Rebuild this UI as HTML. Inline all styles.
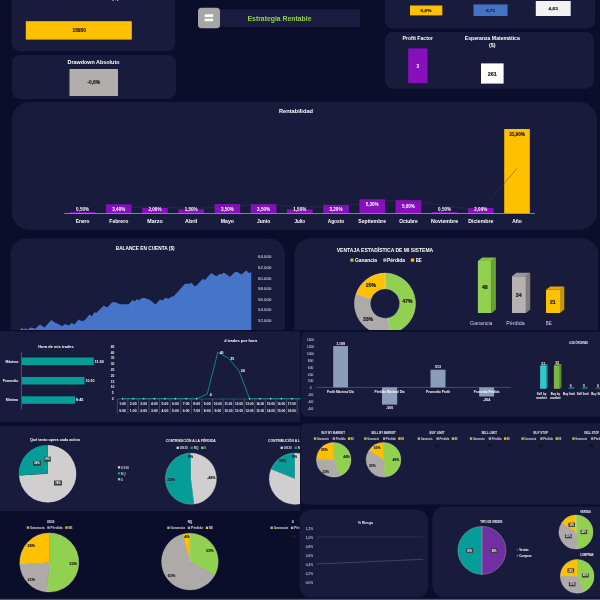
<!DOCTYPE html>
<html lang="es">
<head>
<meta charset="utf-8">
<title>Estrategia Rentable</title>
<style>
html,body{margin:0;padding:0;background:#0a0e2b;}
body{width:600px;height:600px;overflow:hidden;font-family:"Liberation Sans",sans-serif;}
svg{display:block;font-family:"Liberation Sans",sans-serif;will-change:transform;transform:translateZ(0);}
text{font-family:"Liberation Sans",sans-serif;}
</style>
</head>
<body>
<svg width="600" height="600" viewBox="0 0 600 600">
<rect x="0.00" y="0.00" width="600.00" height="600.00" fill="#0a0e2b" />
<rect x="11.70" y="-12.00" width="163.50" height="63.20" fill="#191b3c" rx="8" />
<rect x="25.80" y="21.20" width="106.00" height="18.40" fill="#ffc000" />
<text x="79.20" y="32.09" font-size="4.7" fill="#222" font-weight="bold" text-anchor="middle" textLength="13.30" lengthAdjust="spacingAndGlyphs"  stroke="#222" stroke-width="0.165">15950</text>
<text x="93.50" y="0.30" font-size="5.0" fill="#e8e8ee" font-weight="bold" text-anchor="middle" textLength="51.00" lengthAdjust="spacingAndGlyphs" >Balance Actual ($)</text>
<rect x="12.00" y="55.00" width="164.00" height="44.00" fill="#191b3c" rx="8" />
<text x="93.50" y="63.50" font-size="5.0" fill="#fff" font-weight="bold" text-anchor="middle" textLength="52.00" lengthAdjust="spacingAndGlyphs" >Drawdown Absoluto</text>
<rect x="69.50" y="69.00" width="48.50" height="27.00" fill="#b3aead" />
<text x="93.80" y="84.49" font-size="4.7" fill="#222" font-weight="bold" text-anchor="middle" textLength="12.70" lengthAdjust="spacingAndGlyphs"  stroke="#222" stroke-width="0.165">-0,6%</text>
<rect x="200.00" y="9.50" width="160.00" height="17.50" fill="#1a1c40" />
<rect x="198.00" y="7.80" width="22.00" height="20.50" fill="#a6a6a6" rx="3.5" />
<rect x="204.70" y="14.30" width="8.40" height="2.60" fill="#fff" />
<rect x="204.70" y="18.60" width="8.40" height="2.60" fill="#fff" />
<text x="279.50" y="20.89" font-size="7.2" fill="#92d050" font-weight="bold" text-anchor="middle" textLength="64.00" lengthAdjust="spacingAndGlyphs" >Estrategia Rentable</text>
<rect x="385.00" y="-12.00" width="210.00" height="40.50" fill="#191b3c" rx="8" />
<rect x="410.00" y="5.50" width="32.30" height="9.90" fill="#ffc000" />
<text x="426.00" y="12.08" font-size="4.4" fill="#222" font-weight="bold" text-anchor="middle" textLength="11.00" lengthAdjust="spacingAndGlyphs"  stroke="#222" stroke-width="0.154">0,6%</text>
<rect x="473.50" y="4.40" width="34.10" height="11.60" fill="#4472c4" />
<text x="490.50" y="11.88" font-size="4.4" fill="#222" font-weight="bold" text-anchor="middle" textLength="9.00" lengthAdjust="spacingAndGlyphs"  stroke="#222" stroke-width="0.154">0,71</text>
<rect x="535.80" y="1.00" width="34.90" height="15.00" fill="#f2f2f2" />
<text x="553.30" y="10.18" font-size="4.4" fill="#222" font-weight="bold" text-anchor="middle" textLength="9.50" lengthAdjust="spacingAndGlyphs"  stroke="#222" stroke-width="0.154">4,63</text>
<rect x="385.00" y="32.10" width="208.80" height="56.60" fill="#191b3c" rx="8" />
<text x="417.80" y="39.53" font-size="4.8" fill="#fff" font-weight="bold" text-anchor="middle" textLength="30.40" lengthAdjust="spacingAndGlyphs" >Profit Factor</text>
<rect x="408.20" y="48.40" width="19.30" height="34.80" fill="#880fbc" />
<text x="417.80" y="68.36" font-size="4.6" fill="#fff" font-weight="bold" text-anchor="middle" >3</text>
<text x="492.30" y="39.73" font-size="4.8" fill="#fff" font-weight="bold" text-anchor="middle" textLength="55.00" lengthAdjust="spacingAndGlyphs" >Esperanza Matem&#225;tica</text>
<text x="492.30" y="47.13" font-size="4.8" fill="#fff" font-weight="bold" text-anchor="middle" textLength="6.50" lengthAdjust="spacingAndGlyphs" >($)</text>
<rect x="481.00" y="63.40" width="22.60" height="20.20" fill="#ffffff" />
<text x="492.30" y="76.06" font-size="4.6" fill="#222" font-weight="bold" text-anchor="middle" textLength="9.20" lengthAdjust="spacingAndGlyphs"  stroke="#222" stroke-width="0.161">261</text>
<rect x="11.80" y="102.00" width="585.20" height="127.90" fill="#191b3c" rx="18" />
<text x="296.00" y="112.50" font-size="5.0" fill="#fff" font-weight="bold" text-anchor="middle" textLength="34.00" lengthAdjust="spacingAndGlyphs" >Rentabilidad</text>
<rect x="69.80" y="211.98" width="25.60" height="1.32" fill="#880fbe" />
<rect x="106.00" y="204.31" width="25.60" height="8.99" fill="#880fbe" />
<rect x="142.20" y="208.01" width="25.60" height="5.29" fill="#880fbe" />
<rect x="178.40" y="209.34" width="25.60" height="3.96" fill="#880fbe" />
<rect x="214.60" y="204.05" width="25.60" height="9.25" fill="#880fbe" />
<rect x="250.80" y="204.05" width="25.60" height="9.25" fill="#880fbe" />
<rect x="287.00" y="209.34" width="25.60" height="3.96" fill="#880fbe" />
<rect x="323.20" y="204.84" width="25.60" height="8.46" fill="#880fbe" />
<rect x="359.40" y="199.29" width="25.60" height="14.01" fill="#880fbe" />
<rect x="395.60" y="200.09" width="25.60" height="13.21" fill="#880fbe" />
<rect x="431.80" y="211.98" width="25.60" height="1.32" fill="#880fbe" />
<rect x="468.00" y="208.01" width="25.60" height="5.29" fill="#880fbe" />
<rect x="504.20" y="128.99" width="25.60" height="84.31" fill="#ffc000" />
<polyline points="118.8,208.1 155.0,206.2 191.2,208.7 227.4,206.7 263.6,204.0 299.8,206.7 336.0,207.1 372.2,202.1 408.4,199.7 444.6,206.0 480.8,210.0 517.0,168.5" fill="none" stroke="#36374c" stroke-width="0.45"/>
<line x1="64.3" y1="213.5" x2="535" y2="213.5" stroke="#c8c8d0" stroke-width="0.6"/>
<text x="82.60" y="210.92" font-size="4.5" fill="#fff" font-weight="bold" text-anchor="middle" textLength="13.00" lengthAdjust="spacingAndGlyphs" >0,50%</text>
<text x="82.60" y="222.80" font-size="5.0" fill="#fff" font-weight="bold" text-anchor="middle" textLength="13.60" lengthAdjust="spacingAndGlyphs" >Enero</text>
<text x="118.80" y="210.92" font-size="4.5" fill="#fff" font-weight="bold" text-anchor="middle" textLength="13.00" lengthAdjust="spacingAndGlyphs" >3,40%</text>
<text x="118.80" y="222.80" font-size="5.0" fill="#fff" font-weight="bold" text-anchor="middle" textLength="19.00" lengthAdjust="spacingAndGlyphs" >Febrero</text>
<text x="155.00" y="210.92" font-size="4.5" fill="#fff" font-weight="bold" text-anchor="middle" textLength="13.00" lengthAdjust="spacingAndGlyphs" >2,00%</text>
<text x="155.00" y="222.80" font-size="5.0" fill="#fff" font-weight="bold" text-anchor="middle" textLength="15.40" lengthAdjust="spacingAndGlyphs" >Marzo</text>
<text x="191.20" y="210.92" font-size="4.5" fill="#fff" font-weight="bold" text-anchor="middle" textLength="13.00" lengthAdjust="spacingAndGlyphs" >1,50%</text>
<text x="191.20" y="222.80" font-size="5.0" fill="#fff" font-weight="bold" text-anchor="middle" textLength="12.30" lengthAdjust="spacingAndGlyphs" >Abril</text>
<text x="227.40" y="210.92" font-size="4.5" fill="#fff" font-weight="bold" text-anchor="middle" textLength="13.00" lengthAdjust="spacingAndGlyphs" >3,50%</text>
<text x="227.40" y="222.80" font-size="5.0" fill="#fff" font-weight="bold" text-anchor="middle" textLength="13.30" lengthAdjust="spacingAndGlyphs" >Mayo</text>
<text x="263.60" y="210.92" font-size="4.5" fill="#fff" font-weight="bold" text-anchor="middle" textLength="13.00" lengthAdjust="spacingAndGlyphs" >3,50%</text>
<text x="263.60" y="222.80" font-size="5.0" fill="#fff" font-weight="bold" text-anchor="middle" textLength="13.30" lengthAdjust="spacingAndGlyphs" >Junio</text>
<text x="299.80" y="210.92" font-size="4.5" fill="#fff" font-weight="bold" text-anchor="middle" textLength="13.00" lengthAdjust="spacingAndGlyphs" >1,50%</text>
<text x="299.80" y="222.80" font-size="5.0" fill="#fff" font-weight="bold" text-anchor="middle" textLength="10.70" lengthAdjust="spacingAndGlyphs" >Julio</text>
<text x="336.00" y="210.92" font-size="4.5" fill="#fff" font-weight="bold" text-anchor="middle" textLength="13.00" lengthAdjust="spacingAndGlyphs" >3,20%</text>
<text x="336.00" y="222.80" font-size="5.0" fill="#fff" font-weight="bold" text-anchor="middle" textLength="16.70" lengthAdjust="spacingAndGlyphs" >Agosto</text>
<text x="372.20" y="206.42" font-size="4.5" fill="#fff" font-weight="bold" text-anchor="middle" textLength="13.00" lengthAdjust="spacingAndGlyphs" >5,30%</text>
<text x="372.20" y="222.80" font-size="5.0" fill="#fff" font-weight="bold" text-anchor="middle" textLength="27.70" lengthAdjust="spacingAndGlyphs" >Septiembre</text>
<text x="408.40" y="207.92" font-size="4.5" fill="#fff" font-weight="bold" text-anchor="middle" textLength="13.00" lengthAdjust="spacingAndGlyphs" >5,00%</text>
<text x="408.40" y="222.80" font-size="5.0" fill="#fff" font-weight="bold" text-anchor="middle" textLength="18.50" lengthAdjust="spacingAndGlyphs" >Octubre</text>
<text x="444.60" y="210.92" font-size="4.5" fill="#fff" font-weight="bold" text-anchor="middle" textLength="13.00" lengthAdjust="spacingAndGlyphs" >0,50%</text>
<text x="444.60" y="222.80" font-size="5.0" fill="#fff" font-weight="bold" text-anchor="middle" textLength="27.30" lengthAdjust="spacingAndGlyphs" >Noviembre</text>
<text x="480.80" y="210.92" font-size="4.5" fill="#fff" font-weight="bold" text-anchor="middle" textLength="13.00" lengthAdjust="spacingAndGlyphs" >2,00%</text>
<text x="480.80" y="222.80" font-size="5.0" fill="#fff" font-weight="bold" text-anchor="middle" textLength="25.00" lengthAdjust="spacingAndGlyphs" >Diciembre</text>
<text x="517.00" y="135.92" font-size="4.5" fill="#222" font-weight="bold" text-anchor="middle" textLength="15.70" lengthAdjust="spacingAndGlyphs"  stroke="#222" stroke-width="0.158">31,90%</text>
<text x="517.00" y="222.80" font-size="5.0" fill="#fff" font-weight="bold" text-anchor="middle" textLength="9.70" lengthAdjust="spacingAndGlyphs" >A&#241;o</text>
<clipPath id="cb"><rect x="0" y="230" width="300" height="99.9"/></clipPath>
<g clip-path="url(#cb)">
<rect x="10.50" y="238.40" width="274.50" height="110.00" fill="#191b3c" rx="16" />
<text x="145.20" y="250.37" font-size="5.2" fill="#fff" font-weight="bold" text-anchor="middle" textLength="59.00" lengthAdjust="spacingAndGlyphs" >BALANCE EN CUENTA ($)</text>
<path d="M20,335 L20,329.5 L22,328 L23.75,329.5 L25.75,328.25 L27.5,329.5 L31.25,327.5 L35,328.75 L40,324.5 L44.5,327.5 L51.25,320 L55.5,323 L58,323.75 L62,326.25 L65,324 L68.75,325.5 L71.75,323 L74.25,324.5 L78.75,319.5 L82,321.25 L85,320 L89.5,314.5 L92,316.25 L94.5,312 L96.25,313 L103.75,305.5 L107,307.5 L112.5,302 L116.25,302.5 L120,304.25 L128.75,304.25 L132.5,300 L135,301.25 L137,298.75 L138.75,300.5 L142,298 L145,298 L150,300 L155.5,304.5 L160,299.5 L162.5,300.5 L165,298 L168.75,298.75 L171.25,296.75 L173.75,296.25 L185,283.75 L190,283.75 L191.25,282.5 L194.5,286.25 L196.25,285.75 L203,278.75 L205,280 L211.25,273 L216.25,276.25 L220,273.75 L221.25,274.5 L223.75,272.5 L230,276.75 L235,272 L237.5,272 L241.25,274.5 L246.25,270.5 L249.5,273.25 L251.25,271.75 L251.25,335 Z" fill="#4674c8"/>
<text x="264.70" y="258.38" font-size="4.4" fill="#e8e8f0" font-weight="normal" text-anchor="middle" textLength="13.20" lengthAdjust="spacingAndGlyphs" >64.000</text>
<text x="264.70" y="268.98" font-size="4.4" fill="#e8e8f0" font-weight="normal" text-anchor="middle" textLength="13.20" lengthAdjust="spacingAndGlyphs" >62.000</text>
<text x="264.70" y="279.58" font-size="4.4" fill="#e8e8f0" font-weight="normal" text-anchor="middle" textLength="13.20" lengthAdjust="spacingAndGlyphs" >60.000</text>
<text x="264.70" y="290.18" font-size="4.4" fill="#e8e8f0" font-weight="normal" text-anchor="middle" textLength="13.20" lengthAdjust="spacingAndGlyphs" >58.000</text>
<text x="264.70" y="300.78" font-size="4.4" fill="#e8e8f0" font-weight="normal" text-anchor="middle" textLength="13.20" lengthAdjust="spacingAndGlyphs" >56.000</text>
<text x="264.70" y="311.38" font-size="4.4" fill="#e8e8f0" font-weight="normal" text-anchor="middle" textLength="13.20" lengthAdjust="spacingAndGlyphs" >54.000</text>
<text x="264.70" y="321.98" font-size="4.4" fill="#e8e8f0" font-weight="normal" text-anchor="middle" textLength="13.20" lengthAdjust="spacingAndGlyphs" >52.000</text>
<text x="264.70" y="332.58" font-size="4.4" fill="#e8e8f0" font-weight="normal" text-anchor="middle" textLength="13.20" lengthAdjust="spacingAndGlyphs" >50.000</text>
</g>
<clipPath id="cv"><rect x="290" y="230" width="310" height="100.0"/></clipPath>
<g clip-path="url(#cv)">
<rect x="294.60" y="238.30" width="303.70" height="110.00" fill="#191b3c" rx="16" />
<text x="385.00" y="251.82" font-size="5.6" fill="#fff" font-weight="bold" text-anchor="middle" textLength="96.50" lengthAdjust="spacingAndGlyphs" >VENTAJA ESTAD&#205;STICA DE MI SISTEMA</text>
<rect x="350.30" y="258.50" width="3.20" height="3.20" fill="#92d050" />
<text x="354.90" y="261.94" font-size="5.4" fill="#fff" font-weight="bold" text-anchor="start" textLength="22.10" lengthAdjust="spacingAndGlyphs" >Ganancia</text>
<rect x="383.20" y="258.50" width="3.20" height="3.20" fill="#aeaaaa" />
<text x="387.00" y="261.94" font-size="5.4" fill="#fff" font-weight="bold" text-anchor="start" textLength="18.10" lengthAdjust="spacingAndGlyphs" >P&#233;rdida</text>
<rect x="410.90" y="258.50" width="3.20" height="3.20" fill="#ffc000" />
<text x="415.70" y="261.94" font-size="5.4" fill="#fff" font-weight="bold" text-anchor="start" textLength="6.10" lengthAdjust="spacingAndGlyphs" >BE</text>
<path d="M385.00,273.10 A30.5,30.5 0 0 1 390.72,333.56 L387.77,318.14 A14.8,14.8 0 0 0 385.00,288.80 Z" fill="#92d050" stroke="#e8e8e8" stroke-width="0.35" stroke-linejoin="round"/>
<path d="M390.72,333.56 A30.5,30.5 0 0 1 355.99,294.17 L370.92,299.03 A14.8,14.8 0 0 0 387.77,318.14 Z" fill="#aeaaaa" stroke="#e8e8e8" stroke-width="0.35" stroke-linejoin="round"/>
<path d="M355.99,294.17 A30.5,30.5 0 0 1 385.00,273.10 L385.00,288.80 A14.8,14.8 0 0 0 370.92,299.03 Z" fill="#ffc000" stroke="#e8e8e8" stroke-width="0.35" stroke-linejoin="round"/>
<text x="407.40" y="302.94" font-size="5.4" fill="#1c1c1c" font-weight="bold" text-anchor="middle" textLength="10.00" lengthAdjust="spacingAndGlyphs" stroke="#1c1c1c" stroke-width="0.2">47%</text>
<text x="367.90" y="320.84" font-size="5.4" fill="#1c1c1c" font-weight="bold" text-anchor="middle" textLength="10.00" lengthAdjust="spacingAndGlyphs" stroke="#1c1c1c" stroke-width="0.2">33%</text>
<text x="371.00" y="286.94" font-size="5.4" fill="#1c1c1c" font-weight="bold" text-anchor="middle" textLength="10.00" lengthAdjust="spacingAndGlyphs" stroke="#1c1c1c" stroke-width="0.2">20%</text>
<rect x="477.90" y="261.00" width="13.70" height="52.00" fill="#92d050" />
<path d="M491.59999999999997,261.0 L495.9,257.6 L495.9,309.6 L491.59999999999997,313.0 Z" fill="#6aa035"/>
<path d="M477.9,261.0 L482.2,257.6 L495.9,257.6 L491.59999999999997,261.0 Z" fill="#7fc040"/>
<rect x="512.00" y="276.20" width="13.90" height="36.80" fill="#b7b2b2" />
<path d="M525.9,276.2 L530.1999999999999,272.8 L530.1999999999999,309.6 L525.9,313.0 Z" fill="#807c7c"/>
<path d="M512.0,276.2 L516.3,272.8 L530.1999999999999,272.8 L525.9,276.2 Z" fill="#9a9696"/>
<rect x="546.00" y="289.80" width="14.00" height="23.20" fill="#ffc000" />
<path d="M560.0,289.8 L564.3,286.40000000000003 L564.3,309.6 L560.0,313.0 Z" fill="#c89600"/>
<path d="M546.0,289.8 L550.3,286.40000000000003 L564.3,286.40000000000003 L560.0,289.8 Z" fill="#e0a800"/>
<text x="484.80" y="288.97" font-size="5.2" fill="#1c1c1c" font-weight="bold" text-anchor="middle" stroke="#1c1c1c" stroke-width="0.22">48</text>
<text x="518.70" y="296.77" font-size="5.2" fill="#1c1c1c" font-weight="bold" text-anchor="middle" stroke="#1c1c1c" stroke-width="0.22">34</text>
<text x="552.80" y="303.67" font-size="5.2" fill="#1c1c1c" font-weight="bold" text-anchor="middle" stroke="#1c1c1c" stroke-width="0.22">21</text>
<text x="481.30" y="324.81" font-size="5.3" fill="#d2d2dc" font-weight="normal" text-anchor="middle" textLength="22.40" lengthAdjust="spacingAndGlyphs" >Ganancia</text>
<text x="515.50" y="324.81" font-size="5.3" fill="#d2d2dc" font-weight="normal" text-anchor="middle" textLength="18.50" lengthAdjust="spacingAndGlyphs" >P&#233;rdida</text>
<text x="548.80" y="324.81" font-size="5.3" fill="#d2d2dc" font-weight="normal" text-anchor="middle" textLength="6.00" lengthAdjust="spacingAndGlyphs" >BE</text>
</g>
<rect x="0.00" y="331.40" width="300.20" height="90.70" fill="#191b3c" />
<text x="56.00" y="348.31" font-size="4.2" fill="#fff" font-weight="bold" text-anchor="middle" textLength="35.50" lengthAdjust="spacingAndGlyphs" >Hora de mis trades</text>
<line x1="21.4" y1="352" x2="21.4" y2="409.5" stroke="#a8aabc" stroke-width="0.4"/>
<rect x="21.80" y="357.50" width="72.00" height="7.50" fill="#069c98" />
<rect x="21.80" y="377.00" width="62.70" height="7.50" fill="#069c98" />
<rect x="21.80" y="396.30" width="53.20" height="7.50" fill="#069c98" />
<text x="12.00" y="362.60" font-size="3.6" fill="#fff" font-weight="bold" text-anchor="middle" textLength="13.00" lengthAdjust="spacingAndGlyphs" >M&#225;ximo</text>
<text x="10.50" y="382.10" font-size="3.6" fill="#fff" font-weight="bold" text-anchor="middle" textLength="15.50" lengthAdjust="spacingAndGlyphs" >Promedio</text>
<text x="12.00" y="401.30" font-size="3.6" fill="#fff" font-weight="bold" text-anchor="middle" textLength="12.50" lengthAdjust="spacingAndGlyphs" >M&#237;nimo</text>
<text x="99.20" y="362.60" font-size="3.6" fill="#fff" font-weight="bold" text-anchor="middle" textLength="9.00" lengthAdjust="spacingAndGlyphs" >11:50</text>
<text x="90.00" y="382.10" font-size="3.6" fill="#fff" font-weight="bold" text-anchor="middle" textLength="9.00" lengthAdjust="spacingAndGlyphs" >10:10</text>
<text x="79.60" y="401.30" font-size="3.6" fill="#fff" font-weight="bold" text-anchor="middle" textLength="7.50" lengthAdjust="spacingAndGlyphs" >8:45</text>
<text x="240.70" y="342.21" font-size="4.2" fill="#fff" font-weight="bold" text-anchor="middle" textLength="33.00" lengthAdjust="spacingAndGlyphs" ># trades por hora</text>
<text x="112.60" y="347.69" font-size="3.3" fill="#f0f0f4" font-weight="bold" text-anchor="middle" textLength="3.70" lengthAdjust="spacingAndGlyphs" >45</text>
<text x="112.60" y="353.51" font-size="3.3" fill="#f0f0f4" font-weight="bold" text-anchor="middle" textLength="3.70" lengthAdjust="spacingAndGlyphs" >40</text>
<text x="112.60" y="359.33" font-size="3.3" fill="#f0f0f4" font-weight="bold" text-anchor="middle" textLength="3.70" lengthAdjust="spacingAndGlyphs" >35</text>
<text x="112.60" y="365.15" font-size="3.3" fill="#f0f0f4" font-weight="bold" text-anchor="middle" textLength="3.70" lengthAdjust="spacingAndGlyphs" >30</text>
<text x="112.60" y="370.97" font-size="3.3" fill="#f0f0f4" font-weight="bold" text-anchor="middle" textLength="3.70" lengthAdjust="spacingAndGlyphs" >25</text>
<text x="112.60" y="376.79" font-size="3.3" fill="#f0f0f4" font-weight="bold" text-anchor="middle" textLength="3.70" lengthAdjust="spacingAndGlyphs" >20</text>
<text x="112.60" y="382.61" font-size="3.3" fill="#f0f0f4" font-weight="bold" text-anchor="middle" textLength="3.70" lengthAdjust="spacingAndGlyphs" >15</text>
<text x="112.60" y="388.43" font-size="3.3" fill="#f0f0f4" font-weight="bold" text-anchor="middle" textLength="3.70" lengthAdjust="spacingAndGlyphs" >10</text>
<text x="112.60" y="394.25" font-size="3.3" fill="#f0f0f4" font-weight="bold" text-anchor="middle" textLength="1.90" lengthAdjust="spacingAndGlyphs" >5</text>
<text x="112.60" y="400.07" font-size="3.3" fill="#f0f0f4" font-weight="bold" text-anchor="middle" textLength="1.90" lengthAdjust="spacingAndGlyphs" >0</text>
<line x1="117.30" y1="399.0" x2="117.30" y2="413.6" stroke="#8c8ea8" stroke-width="0.4"/>
<text x="122.59" y="405.02" font-size="3.4" fill="#f0f0f4" font-weight="bold" text-anchor="middle" textLength="6.80" lengthAdjust="spacingAndGlyphs" >1:00</text>
<text x="122.59" y="412.32" font-size="3.4" fill="#f0f0f4" font-weight="bold" text-anchor="middle" textLength="6.80" lengthAdjust="spacingAndGlyphs" >0:00</text>
<line x1="127.88" y1="399.0" x2="127.88" y2="413.6" stroke="#8c8ea8" stroke-width="0.4"/>
<text x="133.17" y="405.02" font-size="3.4" fill="#f0f0f4" font-weight="bold" text-anchor="middle" textLength="6.80" lengthAdjust="spacingAndGlyphs" >2:00</text>
<text x="133.17" y="412.32" font-size="3.4" fill="#f0f0f4" font-weight="bold" text-anchor="middle" textLength="6.80" lengthAdjust="spacingAndGlyphs" >1:00</text>
<line x1="138.46" y1="399.0" x2="138.46" y2="413.6" stroke="#8c8ea8" stroke-width="0.4"/>
<text x="143.75" y="405.02" font-size="3.4" fill="#f0f0f4" font-weight="bold" text-anchor="middle" textLength="6.80" lengthAdjust="spacingAndGlyphs" >3:00</text>
<text x="143.75" y="412.32" font-size="3.4" fill="#f0f0f4" font-weight="bold" text-anchor="middle" textLength="6.80" lengthAdjust="spacingAndGlyphs" >2:00</text>
<line x1="149.04" y1="399.0" x2="149.04" y2="413.6" stroke="#8c8ea8" stroke-width="0.4"/>
<text x="154.33" y="405.02" font-size="3.4" fill="#f0f0f4" font-weight="bold" text-anchor="middle" textLength="6.80" lengthAdjust="spacingAndGlyphs" >4:00</text>
<text x="154.33" y="412.32" font-size="3.4" fill="#f0f0f4" font-weight="bold" text-anchor="middle" textLength="6.80" lengthAdjust="spacingAndGlyphs" >3:00</text>
<line x1="159.62" y1="399.0" x2="159.62" y2="413.6" stroke="#8c8ea8" stroke-width="0.4"/>
<text x="164.91" y="405.02" font-size="3.4" fill="#f0f0f4" font-weight="bold" text-anchor="middle" textLength="6.80" lengthAdjust="spacingAndGlyphs" >5:00</text>
<text x="164.91" y="412.32" font-size="3.4" fill="#f0f0f4" font-weight="bold" text-anchor="middle" textLength="6.80" lengthAdjust="spacingAndGlyphs" >4:00</text>
<line x1="170.20" y1="399.0" x2="170.20" y2="413.6" stroke="#8c8ea8" stroke-width="0.4"/>
<text x="175.49" y="405.02" font-size="3.4" fill="#f0f0f4" font-weight="bold" text-anchor="middle" textLength="6.80" lengthAdjust="spacingAndGlyphs" >6:00</text>
<text x="175.49" y="412.32" font-size="3.4" fill="#f0f0f4" font-weight="bold" text-anchor="middle" textLength="6.80" lengthAdjust="spacingAndGlyphs" >5:00</text>
<line x1="180.78" y1="399.0" x2="180.78" y2="413.6" stroke="#8c8ea8" stroke-width="0.4"/>
<text x="186.07" y="405.02" font-size="3.4" fill="#f0f0f4" font-weight="bold" text-anchor="middle" textLength="6.80" lengthAdjust="spacingAndGlyphs" >7:00</text>
<text x="186.07" y="412.32" font-size="3.4" fill="#f0f0f4" font-weight="bold" text-anchor="middle" textLength="6.80" lengthAdjust="spacingAndGlyphs" >6:00</text>
<line x1="191.36" y1="399.0" x2="191.36" y2="413.6" stroke="#8c8ea8" stroke-width="0.4"/>
<text x="196.65" y="405.02" font-size="3.4" fill="#f0f0f4" font-weight="bold" text-anchor="middle" textLength="6.80" lengthAdjust="spacingAndGlyphs" >8:00</text>
<text x="196.65" y="412.32" font-size="3.4" fill="#f0f0f4" font-weight="bold" text-anchor="middle" textLength="6.80" lengthAdjust="spacingAndGlyphs" >7:00</text>
<line x1="201.94" y1="399.0" x2="201.94" y2="413.6" stroke="#8c8ea8" stroke-width="0.4"/>
<text x="207.23" y="405.02" font-size="3.4" fill="#f0f0f4" font-weight="bold" text-anchor="middle" textLength="6.80" lengthAdjust="spacingAndGlyphs" >9:00</text>
<text x="207.23" y="412.32" font-size="3.4" fill="#f0f0f4" font-weight="bold" text-anchor="middle" textLength="6.80" lengthAdjust="spacingAndGlyphs" >8:00</text>
<line x1="212.52" y1="399.0" x2="212.52" y2="413.6" stroke="#8c8ea8" stroke-width="0.4"/>
<text x="217.81" y="405.02" font-size="3.4" fill="#f0f0f4" font-weight="bold" text-anchor="middle" textLength="8.00" lengthAdjust="spacingAndGlyphs" >10:00</text>
<text x="217.81" y="412.32" font-size="3.4" fill="#f0f0f4" font-weight="bold" text-anchor="middle" textLength="6.80" lengthAdjust="spacingAndGlyphs" >9:00</text>
<line x1="223.10" y1="399.0" x2="223.10" y2="413.6" stroke="#8c8ea8" stroke-width="0.4"/>
<text x="228.39" y="405.02" font-size="3.4" fill="#f0f0f4" font-weight="bold" text-anchor="middle" textLength="8.00" lengthAdjust="spacingAndGlyphs" >11:00</text>
<text x="228.39" y="412.32" font-size="3.4" fill="#f0f0f4" font-weight="bold" text-anchor="middle" textLength="8.00" lengthAdjust="spacingAndGlyphs" >10:00</text>
<line x1="233.68" y1="399.0" x2="233.68" y2="413.6" stroke="#8c8ea8" stroke-width="0.4"/>
<text x="238.97" y="405.02" font-size="3.4" fill="#f0f0f4" font-weight="bold" text-anchor="middle" textLength="8.00" lengthAdjust="spacingAndGlyphs" >12:00</text>
<text x="238.97" y="412.32" font-size="3.4" fill="#f0f0f4" font-weight="bold" text-anchor="middle" textLength="8.00" lengthAdjust="spacingAndGlyphs" >11:00</text>
<line x1="244.26" y1="399.0" x2="244.26" y2="413.6" stroke="#8c8ea8" stroke-width="0.4"/>
<text x="249.55" y="405.02" font-size="3.4" fill="#f0f0f4" font-weight="bold" text-anchor="middle" textLength="8.00" lengthAdjust="spacingAndGlyphs" >13:00</text>
<text x="249.55" y="412.32" font-size="3.4" fill="#f0f0f4" font-weight="bold" text-anchor="middle" textLength="8.00" lengthAdjust="spacingAndGlyphs" >12:00</text>
<line x1="254.84" y1="399.0" x2="254.84" y2="413.6" stroke="#8c8ea8" stroke-width="0.4"/>
<text x="260.13" y="405.02" font-size="3.4" fill="#f0f0f4" font-weight="bold" text-anchor="middle" textLength="8.00" lengthAdjust="spacingAndGlyphs" >14:00</text>
<text x="260.13" y="412.32" font-size="3.4" fill="#f0f0f4" font-weight="bold" text-anchor="middle" textLength="8.00" lengthAdjust="spacingAndGlyphs" >13:00</text>
<line x1="265.42" y1="399.0" x2="265.42" y2="413.6" stroke="#8c8ea8" stroke-width="0.4"/>
<text x="270.71" y="405.02" font-size="3.4" fill="#f0f0f4" font-weight="bold" text-anchor="middle" textLength="8.00" lengthAdjust="spacingAndGlyphs" >15:00</text>
<text x="270.71" y="412.32" font-size="3.4" fill="#f0f0f4" font-weight="bold" text-anchor="middle" textLength="8.00" lengthAdjust="spacingAndGlyphs" >14:00</text>
<line x1="276.00" y1="399.0" x2="276.00" y2="413.6" stroke="#8c8ea8" stroke-width="0.4"/>
<text x="281.29" y="405.02" font-size="3.4" fill="#f0f0f4" font-weight="bold" text-anchor="middle" textLength="8.00" lengthAdjust="spacingAndGlyphs" >16:00</text>
<text x="281.29" y="412.32" font-size="3.4" fill="#f0f0f4" font-weight="bold" text-anchor="middle" textLength="8.00" lengthAdjust="spacingAndGlyphs" >15:00</text>
<line x1="286.58" y1="399.0" x2="286.58" y2="413.6" stroke="#8c8ea8" stroke-width="0.4"/>
<text x="291.87" y="405.02" font-size="3.4" fill="#f0f0f4" font-weight="bold" text-anchor="middle" textLength="8.00" lengthAdjust="spacingAndGlyphs" >17:00</text>
<text x="291.87" y="412.32" font-size="3.4" fill="#f0f0f4" font-weight="bold" text-anchor="middle" textLength="8.00" lengthAdjust="spacingAndGlyphs" >16:00</text>
<line x1="297.16" y1="399.0" x2="297.16" y2="413.6" stroke="#8c8ea8" stroke-width="0.4"/>
<line x1="117.3" y1="399.0" x2="300" y2="399.0" stroke="#2a8f90" stroke-width="0.5"/>
<polyline points="122.59,398.70 133.17,398.70 143.75,398.70 154.33,398.70 164.91,398.70 175.49,398.70 186.07,398.70 196.65,398.70 207.23,394.06 217.81,352.30 228.39,358.10 238.97,370.86 249.55,398.70 260.13,398.70 270.71,398.70 281.29,398.70 291.87,398.70 302.45,398.70" fill="none" stroke="#0fa39f" stroke-width="0.75" stroke-linejoin="round"/>
<circle cx="122.59" cy="398.70" r="0.75" fill="#dfe6ea"/>
<circle cx="133.17" cy="398.70" r="0.75" fill="#dfe6ea"/>
<circle cx="143.75" cy="398.70" r="0.75" fill="#dfe6ea"/>
<circle cx="154.33" cy="398.70" r="0.75" fill="#dfe6ea"/>
<circle cx="164.91" cy="398.70" r="0.75" fill="#dfe6ea"/>
<circle cx="175.49" cy="398.70" r="0.75" fill="#dfe6ea"/>
<circle cx="186.07" cy="398.70" r="0.75" fill="#dfe6ea"/>
<circle cx="196.65" cy="398.70" r="0.75" fill="#dfe6ea"/>
<circle cx="249.55" cy="398.70" r="0.75" fill="#dfe6ea"/>
<circle cx="260.13" cy="398.70" r="0.75" fill="#dfe6ea"/>
<circle cx="270.71" cy="398.70" r="0.75" fill="#dfe6ea"/>
<circle cx="281.29" cy="398.70" r="0.75" fill="#dfe6ea"/>
<circle cx="291.87" cy="398.70" r="0.75" fill="#dfe6ea"/>
<text x="210.63" y="395.62" font-size="3.5" fill="#fff" font-weight="bold" text-anchor="middle" >4</text>
<text x="221.61" y="353.86" font-size="3.5" fill="#fff" font-weight="bold" text-anchor="middle" >40</text>
<text x="232.19" y="359.66" font-size="3.5" fill="#fff" font-weight="bold" text-anchor="middle" >35</text>
<text x="242.77" y="372.42" font-size="3.5" fill="#fff" font-weight="bold" text-anchor="middle" >24</text>
<rect x="300.80" y="331.80" width="320.00" height="84.80" fill="#191b3c" rx="6.5" />
<text x="310.60" y="341.05" font-size="3.2" fill="#e6e6ec" font-weight="normal" text-anchor="middle" textLength="7.00" lengthAdjust="spacingAndGlyphs" >1400</text>
<text x="310.60" y="347.95" font-size="3.2" fill="#e6e6ec" font-weight="normal" text-anchor="middle" textLength="7.00" lengthAdjust="spacingAndGlyphs" >1200</text>
<text x="310.60" y="354.85" font-size="3.2" fill="#e6e6ec" font-weight="normal" text-anchor="middle" textLength="7.00" lengthAdjust="spacingAndGlyphs" >1000</text>
<text x="310.60" y="361.75" font-size="3.2" fill="#e6e6ec" font-weight="normal" text-anchor="middle" textLength="5.50" lengthAdjust="spacingAndGlyphs" >800</text>
<text x="310.60" y="368.65" font-size="3.2" fill="#e6e6ec" font-weight="normal" text-anchor="middle" textLength="5.50" lengthAdjust="spacingAndGlyphs" >600</text>
<text x="310.60" y="375.55" font-size="3.2" fill="#e6e6ec" font-weight="normal" text-anchor="middle" textLength="5.50" lengthAdjust="spacingAndGlyphs" >400</text>
<text x="310.60" y="382.45" font-size="3.2" fill="#e6e6ec" font-weight="normal" text-anchor="middle" textLength="5.50" lengthAdjust="spacingAndGlyphs" >200</text>
<text x="310.60" y="389.35" font-size="3.2" fill="#e6e6ec" font-weight="normal" text-anchor="middle" textLength="1.80" lengthAdjust="spacingAndGlyphs" >0</text>
<text x="310.60" y="396.25" font-size="3.2" fill="#e6e6ec" font-weight="normal" text-anchor="middle" textLength="5.50" lengthAdjust="spacingAndGlyphs" >-200</text>
<text x="310.60" y="403.15" font-size="3.2" fill="#e6e6ec" font-weight="normal" text-anchor="middle" textLength="5.50" lengthAdjust="spacingAndGlyphs" >-400</text>
<text x="310.60" y="410.05" font-size="3.2" fill="#e6e6ec" font-weight="normal" text-anchor="middle" textLength="5.50" lengthAdjust="spacingAndGlyphs" >-600</text>
<line x1="316" y1="387.4" x2="510.7" y2="387.4" stroke="#8f93ab" stroke-width="0.4"/>
<rect x="333.20" y="346.03" width="14.80" height="41.37" fill="#8c9dba" />
<rect x="382.00" y="387.40" width="15.20" height="17.25" fill="#8c9dba" />
<rect x="430.50" y="369.70" width="15.00" height="17.70" fill="#8c9dba" />
<rect x="479.20" y="387.40" width="14.90" height="9.11" fill="#8c9dba" />
<text x="340.60" y="344.86" font-size="3.5" fill="#fff" font-weight="bold" text-anchor="middle" >1.199</text>
<text x="389.60" y="408.86" font-size="3.5" fill="#fff" font-weight="bold" text-anchor="middle" >-500</text>
<text x="438.00" y="368.26" font-size="3.5" fill="#fff" font-weight="bold" text-anchor="middle" >513</text>
<text x="486.60" y="400.66" font-size="3.5" fill="#fff" font-weight="bold" text-anchor="middle" >-264</text>
<text x="340.60" y="392.92" font-size="3.4" fill="#fff" font-weight="bold" text-anchor="middle" textLength="27.00" lengthAdjust="spacingAndGlyphs" >Profit M&#225;ximo/ D&#237;a</text>
<text x="389.60" y="392.92" font-size="3.4" fill="#fff" font-weight="bold" text-anchor="middle" textLength="30.00" lengthAdjust="spacingAndGlyphs" >P&#233;rdida M&#225;xima/ D&#237;a</text>
<text x="438.00" y="392.92" font-size="3.4" fill="#fff" font-weight="bold" text-anchor="middle" textLength="24.00" lengthAdjust="spacingAndGlyphs" >Promedio Profit</text>
<text x="486.60" y="392.92" font-size="3.4" fill="#fff" font-weight="bold" text-anchor="middle" textLength="25.50" lengthAdjust="spacingAndGlyphs" >Promedio P&#233;rdida</text>
<text x="578.70" y="344.08" font-size="3.0" fill="#f0f0f4" font-weight="bold" text-anchor="middle" textLength="18.70" lengthAdjust="spacingAndGlyphs" ># DE &#211;RDENES</text>
<rect x="540.10" y="365.70" width="5.90" height="23.10" fill="#2fc8c8" />
<path d="M546.0,365.7 L547.6,364.5 L547.6,387.6 L546.0,388.8 Z" fill="#1f9a9a"/>
<path d="M540.1,365.7 L541.7,364.5 L547.6,364.5 L546.0,365.7 Z" fill="#29b3b3"/>
<rect x="553.90" y="365.30" width="5.90" height="23.50" fill="#7ab844" />
<path d="M559.8,365.3 L561.4,364.1 L561.4,387.6 L559.8,388.8 Z" fill="#5a8c30"/>
<path d="M553.9,365.3 L555.5,364.1 L561.4,364.1 L559.8,365.3 Z" fill="#6ca53c"/>
<path d="M567.9,388.8 L569.6999999999999,387.2 L574.9,387.2 L573.4,388.8 Z" fill="#0f8f84"/>
<text x="570.60" y="386.85" font-size="3.2" fill="#fff" font-weight="bold" text-anchor="middle" >0</text>
<path d="M581.3,388.8 L583.0999999999999,387.2 L588.3,387.2 L586.8,388.8 Z" fill="#0f8f84"/>
<text x="584.00" y="386.85" font-size="3.2" fill="#fff" font-weight="bold" text-anchor="middle" >0</text>
<path d="M595.1,388.8 L596.9,387.2 L602.1,387.2 L600.6,388.8 Z" fill="#4d7030"/>
<text x="597.80" y="386.85" font-size="3.2" fill="#fff" font-weight="bold" text-anchor="middle" >0</text>
<text x="543.40" y="364.59" font-size="3.3" fill="#fff" font-weight="bold" text-anchor="middle" >51</text>
<text x="557.30" y="363.99" font-size="3.3" fill="#fff" font-weight="bold" text-anchor="middle" >52</text>
<text x="541.60" y="394.99" font-size="3.3" fill="#fff" font-weight="bold" text-anchor="middle" textLength="9.50" lengthAdjust="spacingAndGlyphs" >Sell by</text>
<text x="541.60" y="399.19" font-size="3.3" fill="#fff" font-weight="bold" text-anchor="middle" textLength="10.50" lengthAdjust="spacingAndGlyphs" >market</text>
<text x="555.40" y="394.99" font-size="3.3" fill="#fff" font-weight="bold" text-anchor="middle" textLength="9.50" lengthAdjust="spacingAndGlyphs" >Buy by</text>
<text x="555.40" y="399.19" font-size="3.3" fill="#fff" font-weight="bold" text-anchor="middle" textLength="10.50" lengthAdjust="spacingAndGlyphs" >market</text>
<text x="568.90" y="394.99" font-size="3.3" fill="#fff" font-weight="bold" text-anchor="middle" textLength="12.00" lengthAdjust="spacingAndGlyphs" >Buy limit</text>
<text x="582.80" y="394.99" font-size="3.3" fill="#fff" font-weight="bold" text-anchor="middle" textLength="12.00" lengthAdjust="spacingAndGlyphs" >Sell limit</text>
<text x="597.50" y="394.99" font-size="3.3" fill="#fff" font-weight="bold" text-anchor="middle" textLength="12.50" lengthAdjust="spacingAndGlyphs" >Buy Stop</text>
<rect x="0.00" y="426.10" width="300.20" height="84.90" fill="#191b3c" />
<text x="55.00" y="441.48" font-size="4.1" fill="#fff" font-weight="bold" text-anchor="middle" textLength="50.00" lengthAdjust="spacingAndGlyphs" >Qu&#233; tanto opera cada activo</text>
<path d="M47.60,473.80 L47.60,445.10 A28.7,28.7 0 1 1 18.96,475.60 Z" fill="#d0cece"/>
<g transform="translate(-0.15,-0.2)">
<path d="M47.60,473.80 L47.60,445.10 A28.7,28.7 0 1 1 18.96,475.60 Z" fill="none"/>
<path d="M47.60,473.80 L18.96,475.60 A28.7,28.7 0 0 1 47.60,445.10 Z" fill="#069c98"/>
</g>
<rect x="33.00" y="460.80" width="8.00" height="5.00" fill="#3c3c3c" />
<text x="37.00" y="464.44" font-size="3.024" fill="#fff" font-weight="bold" text-anchor="middle" textLength="5.60" lengthAdjust="spacingAndGlyphs" >26%</text>
<rect x="44.40" y="456.70" width="6.40" height="5.00" fill="#3c3c3c" />
<text x="47.60" y="460.34" font-size="3.024" fill="#fff" font-weight="bold" text-anchor="middle" textLength="4.48" lengthAdjust="spacingAndGlyphs" >0%</text>
<rect x="54.00" y="480.50" width="8.00" height="5.00" fill="#3c3c3c" />
<text x="58.00" y="484.14" font-size="3.024" fill="#fff" font-weight="bold" text-anchor="middle" textLength="5.60" lengthAdjust="spacingAndGlyphs" >74%</text>
<rect x="117.90" y="466.20" width="2.30" height="2.30" fill="#d0cece" />
<text x="120.80" y="468.66" font-size="3.5" fill="#f0f0f4" font-weight="normal" text-anchor="start" textLength="8.43" lengthAdjust="spacingAndGlyphs" >US30</text>
<rect x="117.90" y="472.15" width="2.30" height="2.30" fill="#069c98" />
<text x="120.80" y="474.61" font-size="3.5" fill="#f0f0f4" font-weight="normal" text-anchor="start" textLength="4.90" lengthAdjust="spacingAndGlyphs" >NQ</text>
<rect x="117.90" y="478.10" width="2.30" height="2.30" fill="#92d050" />
<text x="120.80" y="480.56" font-size="3.5" fill="#f0f0f4" font-weight="normal" text-anchor="start" textLength="2.04" lengthAdjust="spacingAndGlyphs" >0</text>
<text x="190.70" y="442.07" font-size="3.25" fill="#f4f4f8" font-weight="bold" text-anchor="middle" textLength="50.00" lengthAdjust="spacingAndGlyphs" >CONTRIBUCI&#211;N A LA P&#201;RDIDA</text>
<rect x="176.55" y="446.60" width="2.40" height="2.40" fill="#d0cece" />
<text x="179.80" y="449.02" font-size="3.4" fill="#dadae2" font-weight="bold" text-anchor="start" textLength="8.00" lengthAdjust="spacingAndGlyphs" >US30</text>
<rect x="190.45" y="446.60" width="2.40" height="2.40" fill="#069c98" />
<text x="193.70" y="449.02" font-size="3.4" fill="#dadae2" font-weight="bold" text-anchor="start" textLength="4.80" lengthAdjust="spacingAndGlyphs" >NQ</text>
<rect x="201.15" y="446.60" width="2.40" height="2.40" fill="#92d050" />
<text x="204.40" y="449.02" font-size="3.4" fill="#dadae2" font-weight="bold" text-anchor="start" textLength="1.50" lengthAdjust="spacingAndGlyphs" >0</text>
<path d="M190.90,478.70 L190.90,453.10 A25.6,25.6 0 0 1 194.11,504.10 Z" fill="#d0cece" stroke="#dcdcdc" stroke-width="0.25" stroke-linejoin="round"/>
<path d="M190.90,478.70 L194.11,504.10 A25.6,25.6 0 1 1 190.90,453.10 Z" fill="#069c98" stroke="#dcdcdc" stroke-width="0.25" stroke-linejoin="round"/>
<text x="211.20" y="478.96" font-size="3.5" fill="#222" font-weight="bold" text-anchor="middle"  stroke="#222" stroke-width="0.123">-48%</text>
<text x="170.70" y="481.06" font-size="3.5" fill="#222" font-weight="bold" text-anchor="middle"  stroke="#222" stroke-width="0.123">-52%</text>
<text x="190.50" y="457.66" font-size="3.5" fill="#222" font-weight="bold" text-anchor="middle"  stroke="#222" stroke-width="0.123">0%</text>
<clipPath id="cq"><rect x="0" y="425" width="300.1" height="86"/></clipPath>
<g clip-path="url(#cq)">
<text x="268.00" y="442.07" font-size="3.25" fill="#f4f4f8" font-weight="bold" text-anchor="start" textLength="53.00" lengthAdjust="spacingAndGlyphs" >CONTRIBUCI&#211;N A LA GANANCIA</text>
<rect x="280.55" y="446.60" width="2.40" height="2.40" fill="#d0cece" />
<text x="283.80" y="449.02" font-size="3.4" fill="#dadae2" font-weight="bold" text-anchor="start" textLength="8.00" lengthAdjust="spacingAndGlyphs" >US30</text>
<rect x="294.45" y="446.60" width="2.40" height="2.40" fill="#069c98" />
<text x="297.70" y="449.02" font-size="3.4" fill="#dadae2" font-weight="bold" text-anchor="start" textLength="4.80" lengthAdjust="spacingAndGlyphs" >NQ</text>
<rect x="305.15" y="446.60" width="2.40" height="2.40" fill="#92d050" />
<text x="308.40" y="449.02" font-size="3.4" fill="#dadae2" font-weight="bold" text-anchor="start" textLength="1.50" lengthAdjust="spacingAndGlyphs" >0</text>
<path d="M294.90,478.70 L294.90,453.00 A25.7,25.7 0 1 1 271.00,469.24 Z" fill="#d0cece" stroke="#dcdcdc" stroke-width="0.25" stroke-linejoin="round"/>
<path d="M294.90,478.70 L271.00,469.24 A25.7,25.7 0 0 1 294.90,453.00 Z" fill="#069c98" stroke="#dcdcdc" stroke-width="0.25" stroke-linejoin="round"/>
<text x="282.50" y="462.26" font-size="3.5" fill="#222" font-weight="bold" text-anchor="middle"  stroke="#222" stroke-width="0.123">19%</text>
<text x="294.60" y="457.66" font-size="3.5" fill="#222" font-weight="bold" text-anchor="middle"  stroke="#222" stroke-width="0.123">0%</text>
</g>
<rect x="0.00" y="511.00" width="300.20" height="87.40" fill="#0a0e2b" />
<text x="50.60" y="522.59" font-size="3.3" fill="#f4f4f8" font-weight="bold" text-anchor="middle" textLength="7.40" lengthAdjust="spacingAndGlyphs" >US30</text>
<rect x="26.75" y="526.40" width="2.40" height="2.40" fill="#92d050" />
<text x="30.00" y="528.86" font-size="3.5" fill="#dadae2" font-weight="bold" text-anchor="start" textLength="14.50" lengthAdjust="spacingAndGlyphs" >Ganancia</text>
<rect x="47.25" y="526.40" width="2.40" height="2.40" fill="#aeaaaa" />
<text x="50.50" y="528.86" font-size="3.5" fill="#dadae2" font-weight="bold" text-anchor="start" textLength="12.00" lengthAdjust="spacingAndGlyphs" >P&#233;rdida</text>
<rect x="65.25" y="526.40" width="2.40" height="2.40" fill="#ffc000" />
<text x="68.50" y="528.86" font-size="3.5" fill="#dadae2" font-weight="bold" text-anchor="start" textLength="4.00" lengthAdjust="spacingAndGlyphs" >BE</text>
<path d="M49.30,562.50 L49.30,532.90 A29.6,29.6 0 1 1 46.70,591.99 Z" fill="#92d050" stroke="#d0d0d0" stroke-width="0.3" stroke-linejoin="round"/>
<path d="M49.30,562.50 L46.70,591.99 A29.6,29.6 0 0 1 19.76,564.36 Z" fill="#aeaaaa" stroke="#d0d0d0" stroke-width="0.3" stroke-linejoin="round"/>
<path d="M49.30,562.50 L19.76,564.36 A29.6,29.6 0 0 1 49.30,532.90 Z" fill="#ffc000" stroke="#d0d0d0" stroke-width="0.3" stroke-linejoin="round"/>
<text x="73.30" y="565.13" font-size="3.7" fill="#222" font-weight="bold" text-anchor="middle"  stroke="#222" stroke-width="0.130">52%</text>
<text x="31.30" y="581.33" font-size="3.7" fill="#222" font-weight="bold" text-anchor="middle"  stroke="#222" stroke-width="0.130">21%</text>
<text x="31.30" y="547.13" font-size="3.7" fill="#222" font-weight="bold" text-anchor="middle"  stroke="#222" stroke-width="0.130">26%</text>
<text x="189.90" y="522.52" font-size="3.4" fill="#fff" font-weight="bold" text-anchor="middle" textLength="4.40" lengthAdjust="spacingAndGlyphs" >NQ</text>
<rect x="167.25" y="526.60" width="2.40" height="2.40" fill="#92d050" />
<text x="170.50" y="529.06" font-size="3.5" fill="#dadae2" font-weight="bold" text-anchor="start" textLength="14.50" lengthAdjust="spacingAndGlyphs" >Ganancia</text>
<rect x="187.75" y="526.60" width="2.40" height="2.40" fill="#aeaaaa" />
<text x="191.00" y="529.06" font-size="3.5" fill="#dadae2" font-weight="bold" text-anchor="start" textLength="12.00" lengthAdjust="spacingAndGlyphs" >P&#233;rdida</text>
<rect x="205.75" y="526.60" width="2.40" height="2.40" fill="#ffc000" />
<text x="209.00" y="529.06" font-size="3.5" fill="#dadae2" font-weight="bold" text-anchor="start" textLength="4.00" lengthAdjust="spacingAndGlyphs" >BE</text>
<path d="M189.90,561.60 L189.90,533.30 A28.3,28.3 0 0 1 214.70,575.23 Z" fill="#92d050" stroke="#d0d0d0" stroke-width="0.3" stroke-linejoin="round"/>
<path d="M189.90,561.60 L214.70,575.23 A28.3,28.3 0 1 1 182.86,534.19 Z" fill="#aeaaaa" stroke="#d0d0d0" stroke-width="0.3" stroke-linejoin="round"/>
<path d="M189.90,561.60 L182.86,534.19 A28.3,28.3 0 0 1 189.90,533.30 Z" fill="#ffc000" stroke="#d0d0d0" stroke-width="0.3" stroke-linejoin="round"/>
<text x="209.80" y="552.03" font-size="3.7" fill="#222" font-weight="bold" text-anchor="middle"  stroke="#222" stroke-width="0.130">33%</text>
<text x="171.50" y="576.53" font-size="3.7" fill="#222" font-weight="bold" text-anchor="middle"  stroke="#222" stroke-width="0.130">63%</text>
<text x="186.90" y="538.13" font-size="3.7" fill="#222" font-weight="bold" text-anchor="middle"  stroke="#222" stroke-width="0.130">4%</text>
<clipPath id="cu"><rect x="0" y="510" width="300.1" height="90"/></clipPath>
<g clip-path="url(#cu)">
<text x="292.80" y="522.52" font-size="3.4" fill="#fff" font-weight="bold" text-anchor="middle" >0</text>
<rect x="270.45" y="526.60" width="2.40" height="2.40" fill="#92d050" />
<text x="273.70" y="529.06" font-size="3.5" fill="#dadae2" font-weight="bold" text-anchor="start" textLength="14.50" lengthAdjust="spacingAndGlyphs" >Ganancia</text>
<rect x="290.95" y="526.60" width="2.40" height="2.40" fill="#aeaaaa" />
<text x="294.20" y="529.06" font-size="3.5" fill="#dadae2" font-weight="bold" text-anchor="start" textLength="12.00" lengthAdjust="spacingAndGlyphs" >P&#233;rdida</text>
<rect x="308.95" y="526.60" width="2.40" height="2.40" fill="#ffc000" />
<text x="312.20" y="529.06" font-size="3.5" fill="#dadae2" font-weight="bold" text-anchor="start" textLength="4.00" lengthAdjust="spacingAndGlyphs" >BE</text>
<text x="293.30" y="537.76" font-size="3.5" fill="#222" font-weight="bold" text-anchor="middle"  stroke="#222" stroke-width="0.123">0%</text>
</g>
<rect x="300.80" y="423.40" width="320.00" height="81.00" fill="#191b3c" rx="4.5" />
<text x="333.20" y="433.52" font-size="3.1" fill="#f0f0f4" font-weight="bold" text-anchor="middle" textLength="23.50" lengthAdjust="spacingAndGlyphs" >BUY BY MARKET</text>
<rect x="313.85" y="437.40" width="2.40" height="2.40" fill="#92d050" />
<text x="316.90" y="439.79" font-size="3.3" fill="#dadae2" font-weight="bold" text-anchor="start" textLength="11.70" lengthAdjust="spacingAndGlyphs" >Ganancia</text>
<rect x="332.65" y="437.40" width="2.40" height="2.40" fill="#aeaaaa" />
<text x="335.70" y="439.79" font-size="3.3" fill="#dadae2" font-weight="bold" text-anchor="start" textLength="9.80" lengthAdjust="spacingAndGlyphs" >P&#233;rdida</text>
<rect x="347.95" y="437.40" width="2.40" height="2.40" fill="#ffc000" />
<text x="351.00" y="439.79" font-size="3.3" fill="#dadae2" font-weight="bold" text-anchor="start" textLength="2.70" lengthAdjust="spacingAndGlyphs" >BE</text>
<text x="383.50" y="433.52" font-size="3.1" fill="#f0f0f4" font-weight="bold" text-anchor="middle" textLength="24.50" lengthAdjust="spacingAndGlyphs" >SELL BY MARKET</text>
<rect x="364.15" y="437.40" width="2.40" height="2.40" fill="#92d050" />
<text x="367.20" y="439.79" font-size="3.3" fill="#dadae2" font-weight="bold" text-anchor="start" textLength="11.70" lengthAdjust="spacingAndGlyphs" >Ganancia</text>
<rect x="382.95" y="437.40" width="2.40" height="2.40" fill="#aeaaaa" />
<text x="386.00" y="439.79" font-size="3.3" fill="#dadae2" font-weight="bold" text-anchor="start" textLength="9.80" lengthAdjust="spacingAndGlyphs" >P&#233;rdida</text>
<rect x="398.25" y="437.40" width="2.40" height="2.40" fill="#ffc000" />
<text x="401.30" y="439.79" font-size="3.3" fill="#dadae2" font-weight="bold" text-anchor="start" textLength="2.70" lengthAdjust="spacingAndGlyphs" >BE</text>
<text x="437.00" y="433.52" font-size="3.1" fill="#f0f0f4" font-weight="bold" text-anchor="middle" textLength="15.00" lengthAdjust="spacingAndGlyphs" >BUY LIMIT</text>
<rect x="417.65" y="437.40" width="2.40" height="2.40" fill="#92d050" />
<text x="420.70" y="439.79" font-size="3.3" fill="#dadae2" font-weight="bold" text-anchor="start" textLength="11.70" lengthAdjust="spacingAndGlyphs" >Ganancia</text>
<rect x="436.45" y="437.40" width="2.40" height="2.40" fill="#aeaaaa" />
<text x="439.50" y="439.79" font-size="3.3" fill="#dadae2" font-weight="bold" text-anchor="start" textLength="9.80" lengthAdjust="spacingAndGlyphs" >P&#233;rdida</text>
<rect x="451.75" y="437.40" width="2.40" height="2.40" fill="#ffc000" />
<text x="454.80" y="439.79" font-size="3.3" fill="#dadae2" font-weight="bold" text-anchor="start" textLength="2.70" lengthAdjust="spacingAndGlyphs" >BE</text>
<text x="489.20" y="433.52" font-size="3.1" fill="#f0f0f4" font-weight="bold" text-anchor="middle" textLength="15.50" lengthAdjust="spacingAndGlyphs" >SELL LIMIT</text>
<rect x="469.85" y="437.40" width="2.40" height="2.40" fill="#92d050" />
<text x="472.90" y="439.79" font-size="3.3" fill="#dadae2" font-weight="bold" text-anchor="start" textLength="11.70" lengthAdjust="spacingAndGlyphs" >Ganancia</text>
<rect x="488.65" y="437.40" width="2.40" height="2.40" fill="#aeaaaa" />
<text x="491.70" y="439.79" font-size="3.3" fill="#dadae2" font-weight="bold" text-anchor="start" textLength="9.80" lengthAdjust="spacingAndGlyphs" >P&#233;rdida</text>
<rect x="503.95" y="437.40" width="2.40" height="2.40" fill="#ffc000" />
<text x="507.00" y="439.79" font-size="3.3" fill="#dadae2" font-weight="bold" text-anchor="start" textLength="2.70" lengthAdjust="spacingAndGlyphs" >BE</text>
<text x="540.80" y="433.52" font-size="3.1" fill="#f0f0f4" font-weight="bold" text-anchor="middle" textLength="14.50" lengthAdjust="spacingAndGlyphs" >BUY STOP</text>
<rect x="521.45" y="437.40" width="2.40" height="2.40" fill="#92d050" />
<text x="524.50" y="439.79" font-size="3.3" fill="#dadae2" font-weight="bold" text-anchor="start" textLength="11.70" lengthAdjust="spacingAndGlyphs" >Ganancia</text>
<rect x="540.25" y="437.40" width="2.40" height="2.40" fill="#aeaaaa" />
<text x="543.30" y="439.79" font-size="3.3" fill="#dadae2" font-weight="bold" text-anchor="start" textLength="9.80" lengthAdjust="spacingAndGlyphs" >P&#233;rdida</text>
<rect x="555.55" y="437.40" width="2.40" height="2.40" fill="#ffc000" />
<text x="558.60" y="439.79" font-size="3.3" fill="#dadae2" font-weight="bold" text-anchor="start" textLength="2.70" lengthAdjust="spacingAndGlyphs" >BE</text>
<text x="591.60" y="433.52" font-size="3.1" fill="#f0f0f4" font-weight="bold" text-anchor="middle" textLength="15.00" lengthAdjust="spacingAndGlyphs" >SELL STOP</text>
<rect x="572.25" y="437.40" width="2.40" height="2.40" fill="#92d050" />
<text x="575.30" y="439.79" font-size="3.3" fill="#dadae2" font-weight="bold" text-anchor="start" textLength="11.70" lengthAdjust="spacingAndGlyphs" >Ganancia</text>
<rect x="591.05" y="437.40" width="2.40" height="2.40" fill="#aeaaaa" />
<text x="594.10" y="439.79" font-size="3.3" fill="#dadae2" font-weight="bold" text-anchor="start" textLength="9.80" lengthAdjust="spacingAndGlyphs" >P&#233;rdida</text>
<rect x="606.35" y="437.40" width="2.40" height="2.40" fill="#ffc000" />
<text x="609.40" y="439.79" font-size="3.3" fill="#dadae2" font-weight="bold" text-anchor="start" textLength="2.70" lengthAdjust="spacingAndGlyphs" >BE</text>
<text x="437.00" y="447.15" font-size="3.2" fill="#111" font-weight="bold" text-anchor="middle"  stroke="#111" stroke-width="0.112">0%</text>
<text x="489.20" y="447.15" font-size="3.2" fill="#111" font-weight="bold" text-anchor="middle"  stroke="#111" stroke-width="0.112">0%</text>
<text x="540.80" y="447.15" font-size="3.2" fill="#111" font-weight="bold" text-anchor="middle"  stroke="#111" stroke-width="0.112">0%</text>
<text x="591.60" y="447.15" font-size="3.2" fill="#111" font-weight="bold" text-anchor="middle"  stroke="#111" stroke-width="0.112">0%</text>
<path d="M333.70,459.80 L333.70,442.50 A17.3,17.3 0 0 1 340.07,475.89 Z" fill="#92d050" stroke="#d8d8d8" stroke-width="0.3" stroke-linejoin="round"/>
<path d="M333.70,459.80 L340.07,475.89 A17.3,17.3 0 0 1 316.40,459.80 Z" fill="#aeaaaa" stroke="#d8d8d8" stroke-width="0.3" stroke-linejoin="round"/>
<path d="M333.70,459.80 L316.40,459.80 A17.3,17.3 0 0 1 333.70,442.50 Z" fill="#ffc000" stroke="#d8d8d8" stroke-width="0.3" stroke-linejoin="round"/>
<text x="346.50" y="458.29" font-size="3.3" fill="#222" font-weight="bold" text-anchor="middle"  stroke="#222" stroke-width="0.116">44%</text>
<text x="325.70" y="472.69" font-size="3.3" fill="#222" font-weight="bold" text-anchor="middle"  stroke="#222" stroke-width="0.116">31%</text>
<text x="324.30" y="451.39" font-size="3.3" fill="#222" font-weight="bold" text-anchor="middle"  stroke="#222" stroke-width="0.116">25%</text>
<path d="M383.50,459.80 L383.50,442.50 A17.3,17.3 0 0 1 384.59,477.07 Z" fill="#92d050" stroke="#d8d8d8" stroke-width="0.3" stroke-linejoin="round"/>
<path d="M383.50,459.80 L384.59,477.07 A17.3,17.3 0 0 1 368.89,450.53 Z" fill="#aeaaaa" stroke="#d8d8d8" stroke-width="0.3" stroke-linejoin="round"/>
<path d="M383.50,459.80 L368.89,450.53 A17.3,17.3 0 0 1 383.50,442.50 Z" fill="#ffc000" stroke="#d8d8d8" stroke-width="0.3" stroke-linejoin="round"/>
<text x="395.80" y="460.69" font-size="3.3" fill="#222" font-weight="bold" text-anchor="middle"  stroke="#222" stroke-width="0.116">49%</text>
<text x="372.30" y="466.89" font-size="3.3" fill="#222" font-weight="bold" text-anchor="middle"  stroke="#222" stroke-width="0.116">35%</text>
<text x="377.10" y="448.99" font-size="3.3" fill="#222" font-weight="bold" text-anchor="middle"  stroke="#222" stroke-width="0.116">16%</text>
<rect x="299.60" y="509.40" width="128.40" height="88.20" fill="#191b3c" rx="11.5" />
<text x="365.50" y="523.87" font-size="3.8" fill="#f0f0f4" font-weight="bold" text-anchor="middle" textLength="15.00" lengthAdjust="spacingAndGlyphs" >% Riesgo</text>
<text x="309.50" y="529.59" font-size="3.3" fill="#e6e6ec" font-weight="normal" text-anchor="middle" textLength="7.40" lengthAdjust="spacingAndGlyphs" >1,2%</text>
<text x="309.50" y="538.59" font-size="3.3" fill="#e6e6ec" font-weight="normal" text-anchor="middle" textLength="7.40" lengthAdjust="spacingAndGlyphs" >1,0%</text>
<text x="309.50" y="547.59" font-size="3.3" fill="#e6e6ec" font-weight="normal" text-anchor="middle" textLength="7.40" lengthAdjust="spacingAndGlyphs" >0,8%</text>
<text x="309.50" y="556.59" font-size="3.3" fill="#e6e6ec" font-weight="normal" text-anchor="middle" textLength="7.40" lengthAdjust="spacingAndGlyphs" >0,6%</text>
<text x="309.50" y="565.59" font-size="3.3" fill="#e6e6ec" font-weight="normal" text-anchor="middle" textLength="7.40" lengthAdjust="spacingAndGlyphs" >0,4%</text>
<text x="309.50" y="574.59" font-size="3.3" fill="#e6e6ec" font-weight="normal" text-anchor="middle" textLength="7.40" lengthAdjust="spacingAndGlyphs" >0,2%</text>
<text x="309.50" y="583.59" font-size="3.3" fill="#e6e6ec" font-weight="normal" text-anchor="middle" textLength="7.40" lengthAdjust="spacingAndGlyphs" >0,0%</text>
<line x1="316.3" y1="537" x2="423.3" y2="537" stroke="#40425f" stroke-width="0.55"/>
<line x1="316.3" y1="564" x2="423.3" y2="559.3" stroke="#737a9c" stroke-width="0.4"/>
<rect x="432.30" y="506.40" width="190.00" height="91.20" fill="#191b3c" rx="13" />
<text x="491.20" y="523.39" font-size="3.3" fill="#fff" font-weight="bold" text-anchor="middle" textLength="22.00" lengthAdjust="spacingAndGlyphs" >TIPO DE ORDEN</text>
<path d="M481.90,550.40 L481.90,526.40 A24.0,24.0 0 0 1 481.90,574.40 Z" fill="#7030a0" stroke="#d8d8d8" stroke-width="0.3" stroke-linejoin="round"/>
<path d="M481.90,550.40 L481.90,574.40 A24.0,24.0 0 0 1 481.90,526.40 Z" fill="#069c98" stroke="#d8d8d8" stroke-width="0.3" stroke-linejoin="round"/>
<rect x="490.60" y="548.40" width="7.00" height="4.40" fill="#3c3c3c" />
<text x="494.10" y="551.65" font-size="2.772" fill="#fff" font-weight="bold" text-anchor="middle" textLength="4.90" lengthAdjust="spacingAndGlyphs" >50%</text>
<rect x="466.10" y="548.40" width="7.00" height="4.40" fill="#3c3c3c" />
<text x="469.60" y="551.65" font-size="2.772" fill="#fff" font-weight="bold" text-anchor="middle" textLength="4.90" lengthAdjust="spacingAndGlyphs" >50%</text>
<rect x="516.60" y="549.00" width="1.70" height="1.70" fill="#7030a0" />
<text x="519.20" y="551.09" font-size="3.3" fill="#fff" font-weight="bold" text-anchor="start" textLength="9.50" lengthAdjust="spacingAndGlyphs" >Ventas</text>
<rect x="516.60" y="554.80" width="1.70" height="1.70" fill="#069c98" />
<text x="519.20" y="556.89" font-size="3.3" fill="#fff" font-weight="bold" text-anchor="start" textLength="12.50" lengthAdjust="spacingAndGlyphs" >Compras</text>
<text x="585.40" y="512.65" font-size="3.2" fill="#fff" font-weight="bold" text-anchor="middle" textLength="10.50" lengthAdjust="spacingAndGlyphs" >VENTAS</text>
<path d="M576.00,532.00 L576.00,515.00 A17.0,17.0 0 0 1 577.07,548.97 Z" fill="#92d050" stroke="#d8d8d8" stroke-width="0.3" stroke-linejoin="round"/>
<path d="M576.00,532.00 L577.07,548.97 A17.0,17.0 0 0 1 561.65,522.89 Z" fill="#aeaaaa" stroke="#d8d8d8" stroke-width="0.3" stroke-linejoin="round"/>
<path d="M576.00,532.00 L561.65,522.89 A17.0,17.0 0 0 1 576.00,515.00 Z" fill="#ffc000" stroke="#d8d8d8" stroke-width="0.3" stroke-linejoin="round"/>
<rect x="580.60" y="529.90" width="6.60" height="4.20" fill="#3c3c3c" />
<text x="583.90" y="533.02" font-size="2.688" fill="#fff" font-weight="bold" text-anchor="middle" textLength="4.62" lengthAdjust="spacingAndGlyphs" >49%</text>
<rect x="565.10" y="534.10" width="6.60" height="4.20" fill="#3c3c3c" />
<text x="568.40" y="537.22" font-size="2.688" fill="#fff" font-weight="bold" text-anchor="middle" textLength="4.62" lengthAdjust="spacingAndGlyphs" >35%</text>
<rect x="568.40" y="522.70" width="6.60" height="4.20" fill="#3c3c3c" />
<text x="571.70" y="525.82" font-size="2.688" fill="#fff" font-weight="bold" text-anchor="middle" textLength="4.62" lengthAdjust="spacingAndGlyphs" >16%</text>
<text x="586.80" y="556.35" font-size="3.2" fill="#fff" font-weight="bold" text-anchor="middle" textLength="13.50" lengthAdjust="spacingAndGlyphs" >COMPRAS</text>
<path d="M577.20,576.30 L577.20,559.40 A16.9,16.9 0 0 1 583.42,592.01 Z" fill="#92d050" stroke="#d8d8d8" stroke-width="0.3" stroke-linejoin="round"/>
<path d="M577.20,576.30 L583.42,592.01 A16.9,16.9 0 0 1 560.30,576.30 Z" fill="#aeaaaa" stroke="#d8d8d8" stroke-width="0.3" stroke-linejoin="round"/>
<path d="M577.20,576.30 L560.30,576.30 A16.9,16.9 0 0 1 577.20,559.40 Z" fill="#ffc000" stroke="#d8d8d8" stroke-width="0.3" stroke-linejoin="round"/>
<rect x="582.10" y="573.30" width="6.60" height="4.20" fill="#3c3c3c" />
<text x="585.40" y="576.42" font-size="2.688" fill="#fff" font-weight="bold" text-anchor="middle" textLength="4.62" lengthAdjust="spacingAndGlyphs" >44%</text>
<rect x="568.90" y="582.10" width="6.60" height="4.20" fill="#3c3c3c" />
<text x="572.20" y="585.22" font-size="2.688" fill="#fff" font-weight="bold" text-anchor="middle" textLength="4.62" lengthAdjust="spacingAndGlyphs" >31%</text>
<rect x="567.50" y="568.40" width="6.60" height="4.20" fill="#3c3c3c" />
<text x="570.80" y="571.52" font-size="2.688" fill="#fff" font-weight="bold" text-anchor="middle" textLength="4.62" lengthAdjust="spacingAndGlyphs" >25%</text>
<rect x="0.00" y="598.85" width="600.00" height="2.00" fill="#54556f" />
</svg>
</body>
</html>
